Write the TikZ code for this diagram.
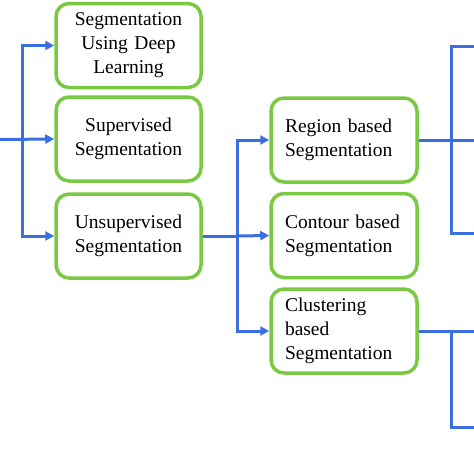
\documentclass[tikz,border=0pt]{standalone}
\usepackage{fontspec}
\setmainfont{Liberation Serif}
\usetikzlibrary{arrows.meta}
\definecolor{linkblue}{HTML}{3A6FE0}
\definecolor{boxgreen}{HTML}{7AC943}
\begin{document}
\begin{tikzpicture}[x=1pt,y=-1pt,
  box/.style={draw=boxgreen,line width=3.5pt,rounded corners=13pt,fill=white,
    minimum height=84pt,inner ysep=0pt,font=\fontsize{19.5}{24}\selectfont},
  cbox/.style={box,text width=131pt,inner xsep=7pt,align=center},
  lbox/.style={box,text width=118pt,inner xsep=14pt,align=left},
  link/.style={draw=linkblue,line width=3pt},
  arr/.style={link,-{Triangle[length=9pt,width=9pt]}}]
\useasboundingbox (0,0) rectangle (474,474);
% left column
\node[cbox] (b1) at (128.5,45.5) {Segmentation\\Using Deep\\Learning};
\node[cbox] (b2) at (128.5,139) {Supervised\\Segmentation};
\node[cbox] (b3) at (128.5,236) {Unsupervised\\Segmentation};
% middle column
\node[lbox] (r1) at (344,140) {Region based\\Segmentation};
\node[lbox] (r2) at (344,235.5) {Contour based\\Segmentation};
\node[lbox] (r3) at (344,331) {Clustering\\based\\Segmentation};
% coordinates
\coordinate (in) at (0,139.5);
\coordinate (j1) at (22,139.5);
\coordinate (j2) at (237,236);
\coordinate (j3) at (451,139.5);
\coordinate (j4) at (451,331);
\coordinate (o1) at (474,46);
\coordinate (o2) at (474,140);
\coordinate (o3) at (474,233);
\coordinate (o4) at (474,331);
\coordinate (o5) at (474,427);
% left connectors
\draw[arr] (in) -- (b2.west);
\draw[arr] (j1) |- (b1.west);
\draw[arr] (j1) |- (b3.west);
% middle connectors
\draw[link] (b3.east) -- (j2);
\draw[arr] (j2) |- (r1.west);
\draw[arr] (j2) -- (r2.west);
\draw[arr] (j2) |- (r3.west);
% right connectors
\draw[link] (r1.east) -- (o2);
\draw[link] (o1) -| (j3) |- (o3);
\draw[link] (r3.east) -- (o4);
\draw[link] (j4) |- (o5);
\end{tikzpicture}
\end{document}
